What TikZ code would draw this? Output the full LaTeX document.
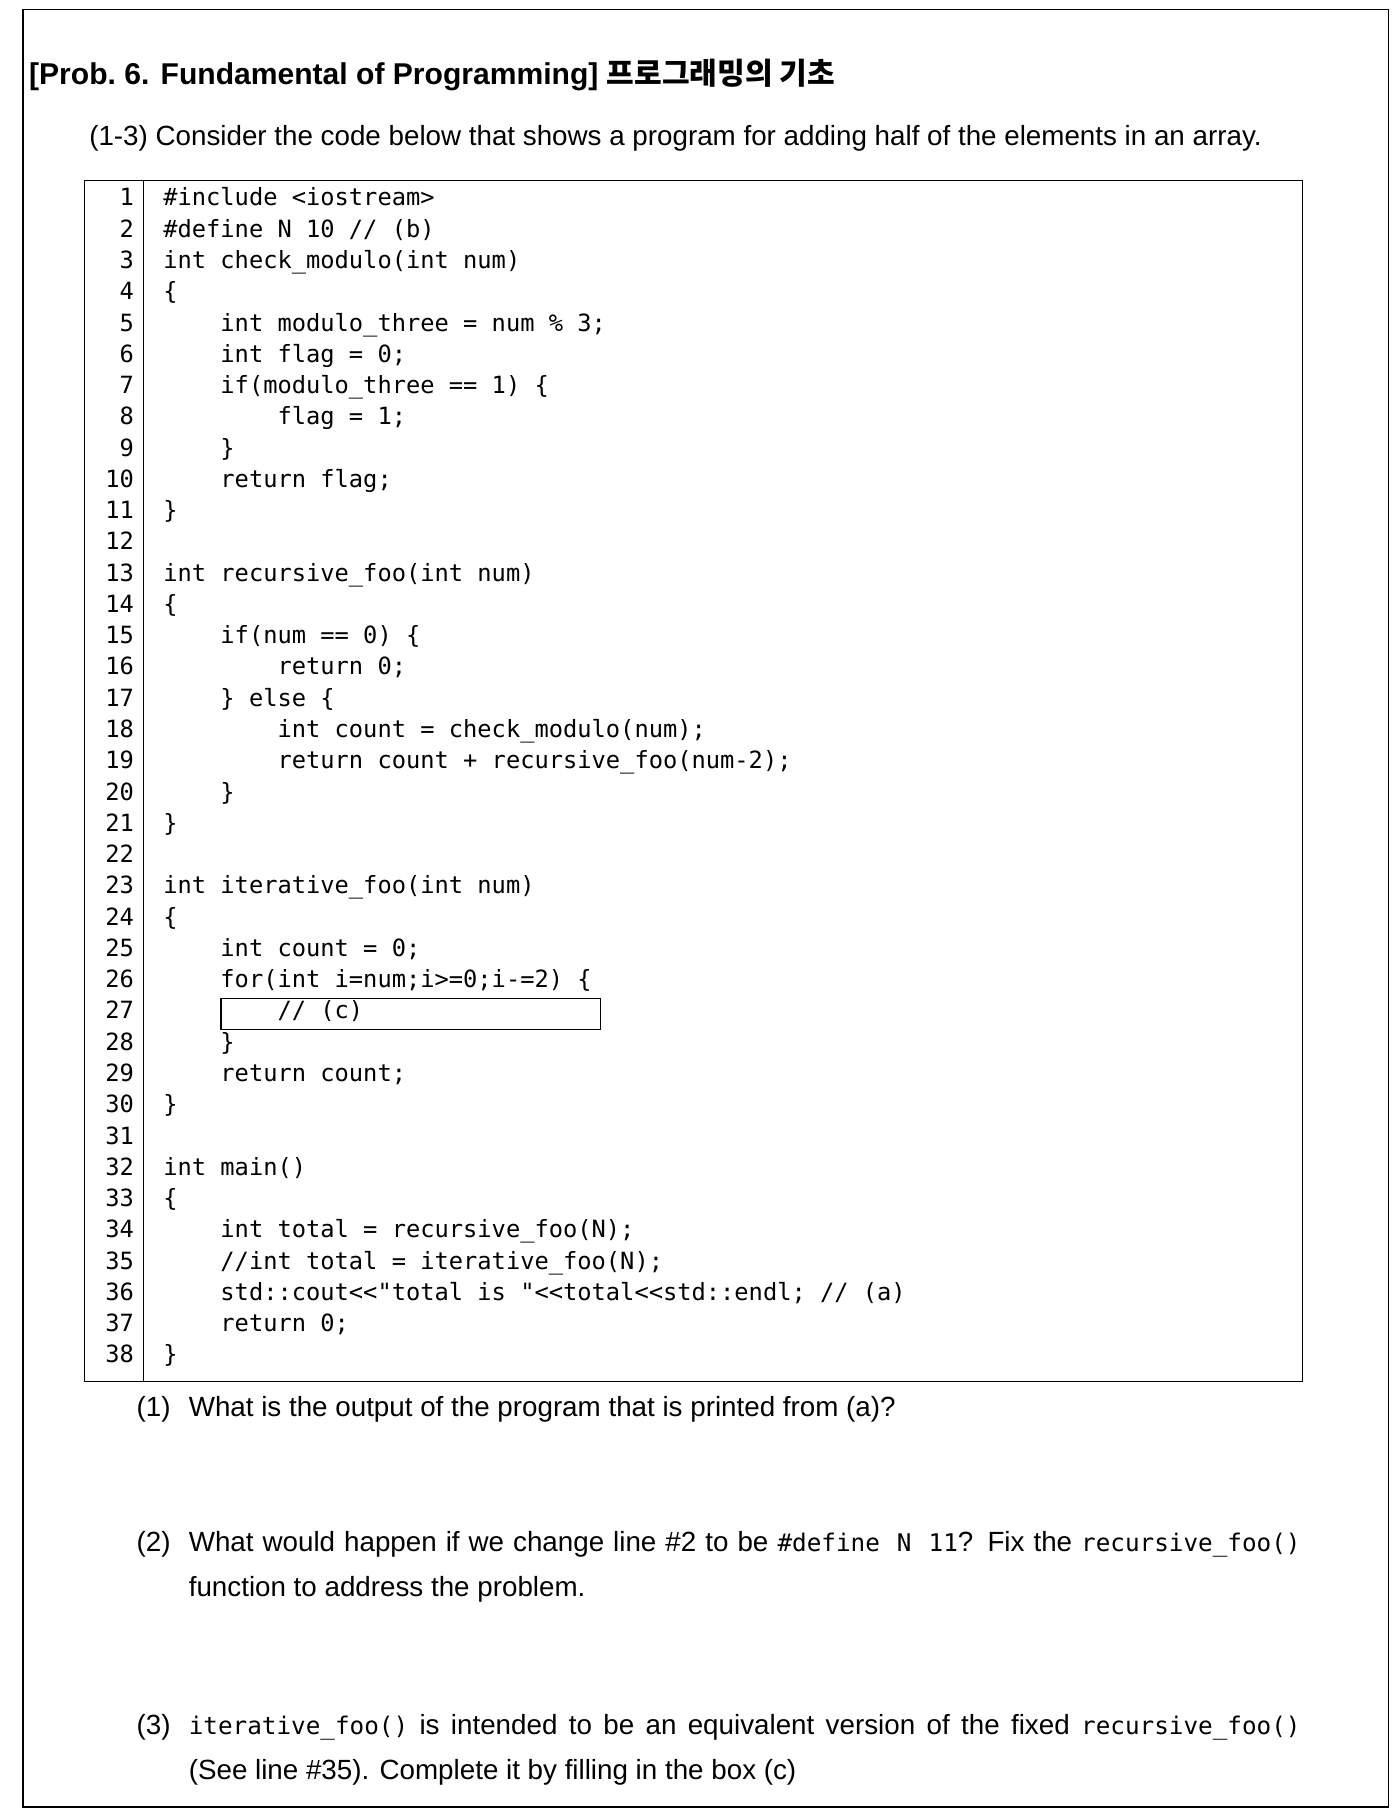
\documentclass[tikz,border=0pt]{standalone}
\usepackage{fontspec}
\setmainfont{Liberation Sans}
\newfontfamily\code{DejaVu Sans Mono}
\newfontfamily\kr{Noto Sans CJK KR}
\begin{document}
\begin{tikzpicture}[x=1pt,y=-1pt,
  cl/.style={anchor=base west,inner sep=0,font=\code\fontsize{20.5}{24}\selectfont},
  nl/.style={anchor=base east,inner sep=0,font=\code\fontsize{20.5}{24}\selectfont},
  tx/.style={anchor=base west,inner sep=0,font=\fontsize{24}{28}\selectfont}]
\useasboundingbox (0,0) rectangle (1208,1568);
\draw[line width=1.2pt] (20,8) rectangle (1200,1562);
\node[anchor=base west,inner sep=0,font=\bfseries\fontsize{26}{30}\selectfont] (title) at (25,73) {[Prob.\ 6. Fundamental of Programming] {\kr\bfseries 프로그래밍의 기초}};
\node[tx] (intro) at (77,126) {(1-3) Consider the code below that shows a program for adding half of the elements in an array.};
\draw[line width=1pt] (73,156) rectangle (1126,1194);
\draw[line width=1pt] (124,156) -- (124,1194);
\foreach \i in {1,...,38} {\node[nl] (n\i) at (116,{170+27.03*(\i-1)+8}) {\i};}
\def\L#1#2{\node[cl] (c#1) at (141,{170+27.03*(#1-1)+8}) {#2};}
\L{1}{\#include <iostream>}
\L{2}{\#define N 10 // (b)}
\L{3}{int check\_modulo(int num)}
\L{4}{\{}
\L{5}{\ \ \ \ int modulo\_three = num \% 3;}
\L{6}{\ \ \ \ int flag = 0;}
\L{7}{\ \ \ \ if(modulo\_three == 1) \{}
\L{8}{\ \ \ \ \ \ \ \ flag = 1;}
\L{9}{\ \ \ \ \}}
\L{10}{\ \ \ \ return flag;}
\L{11}{\}}
\L{13}{int recursive\_foo(int num)}
\L{14}{\{}
\L{15}{\ \ \ \ if(num == 0) \{}
\L{16}{\ \ \ \ \ \ \ \ return 0;}
\L{17}{\ \ \ \ \} else \{}
\L{18}{\ \ \ \ \ \ \ \ int count = check\_modulo(num);}
\L{19}{\ \ \ \ \ \ \ \ return count + recursive\_foo(num-2);}
\L{20}{\ \ \ \ \}}
\L{21}{\}}
\L{23}{int iterative\_foo(int num)}
\L{24}{\{}
\L{25}{\ \ \ \ int count = 0;}
\L{26}{\ \ \ \ for(int i=num;i>=0;i-=2) \{}
\L{27}{\ \ \ \ \ \ \ \ // (c)}
\L{28}{\ \ \ \ \}}
\L{29}{\ \ \ \ return count;}
\L{30}{\}}
\L{32}{int main()}
\L{33}{\{}
\L{34}{\ \ \ \ int total = recursive\_foo(N);}
\L{35}{\ \ \ \ //int total = iterative\_foo(N);}
\L{36}{\ \ \ \ std::cout<<"total is "<<total<<std::endl; // (a)}
\L{37}{\ \ \ \ return 0;}
\L{38}{\}}
\draw[line width=1pt] (191,863) rectangle (519,890);
\node[tx] (q1n) at (118,1224) {(1)};
\node[tx] (q1) at (163,1224) {What is the output of the program that is printed from (a)?};
\node[tx] (q2n) at (118,1341) {(2)};
\node[tx] (q2) at (163,1341) {\makebox[961pt][s]{What would happen if we change line \#2 to be {\code\fontsize{21}{24}\selectfont\#define N 11}? Fix the {\code\fontsize{21}{24}\selectfont recursive\_foo()}}};
\node[tx] (q2b) at (163,1380) {function to address the problem.};
\node[tx] (q3n) at (118,1499) {(3)};
\node[tx] (q3) at (163,1499) {\makebox[961pt][s]{{\code\fontsize{21}{24}\selectfont iterative\_foo()} is intended to be an equivalent version of the fixed {\code\fontsize{21}{24}\selectfont recursive\_foo()}}};
\node[tx] (q3b) at (163,1538) {(See line \#35). Complete it by filling in the box (c)};
\end{tikzpicture}
\end{document}
